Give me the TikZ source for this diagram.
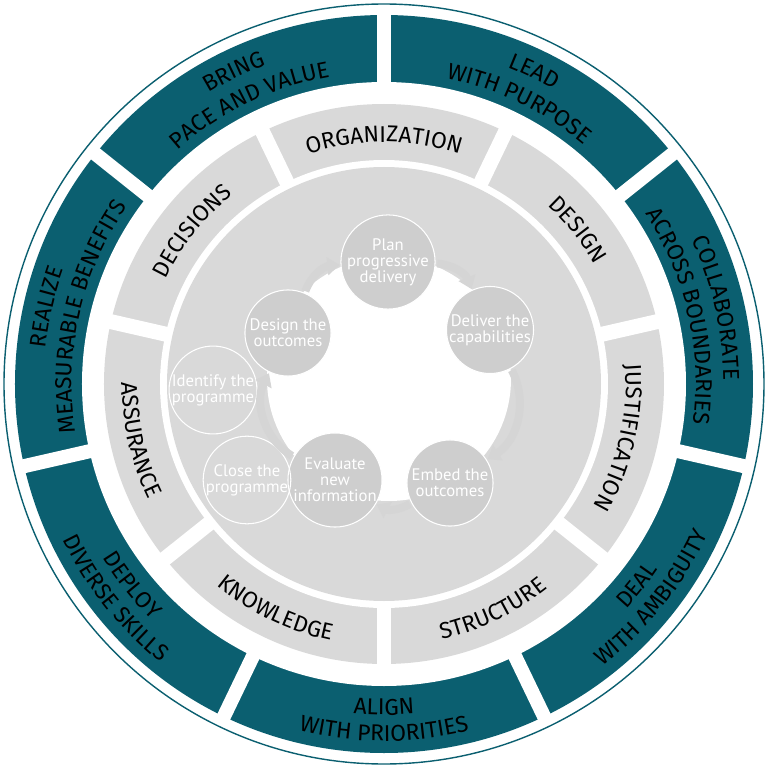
\documentclass[tikz,border=0pt]{standalone}
\usepackage{fontspec}
\setmainfont{Fira Sans}
\newfontfamily\cyclefont{PT Sans}
\usetikzlibrary{decorations.text,arrows.meta}

\definecolor{petrol}{HTML}{0B5F70}
\definecolor{ringgray}{HTML}{D9D9D9}
\definecolor{stepgray}{HTML}{CECECE}
\definecolor{ringtext}{HTML}{F3F3F3}

\tikzset{
  stage/.style={circle, fill=stepgray, draw=white, line width=0.6pt,
    minimum size=49pt, inner sep=0pt, align=center, text=white,
    font=\cyclefont\fontsize{9.5}{9}\selectfont},
  phase/.style={stage, fill=none},
  flow/.style={draw=stepgray!85!white, line width=4.5pt,
    -{Triangle[length=7pt,width=10pt]}, shorten <=1pt, shorten >=0.5pt},
  cut/.style={draw=white, line width=8pt},
}

\begin{document}
\begin{tikzpicture}[x=0.02cm, y=0.02cm]
\useasboundingbox (-384,-384) rectangle (384,384);

% outer ring
\draw[petrol, line width=0.8pt] (0,0) circle (380);
\fill[petrol] (0,0) circle (369);
\fill[white] (0,0) circle (302);
\foreach \a in {90,38.57,-12.86,-64.29,-115.71,-167.14,141.43}
  \draw[cut] (\a:290) -- (\a:375);

% middle ring
\fill[ringgray] (0,0) circle (280);
\fill[white] (0,0) circle (224);
\foreach \a in {64.29,12.86,-38.57,-90,-141.43,167.14,115.71}
  \draw[cut, line width=8.5pt] (\a:220) -- (\a:285);

% inner disk
\fill[ringgray] (0,0) circle (217);
\fill[white] (5,5) circle (122);

% outer ring texts
\begin{scope}[white]
\fontsize{13}{13}\selectfont
\foreach \a/\one/\two in {64.29/LEAD/WITH PURPOSE, 12.86/COLLABORATE/ACROSS BOUNDARIES,
    167.14/REALIZE/MEASURABLE BENEFITS, 115.71/BRING/PACE AND VALUE}{
  \path[decorate, decoration={text along path, text align=center, text/.expanded=\one}]
    (\a+25:340) arc[start angle=\a+25, end angle=\a-25, radius=340];
  \path[decorate, decoration={text along path, text align=center, text/.expanded=\two}]
    (\a+25:312) arc[start angle=\a+25, end angle=\a-25, radius=312];
}
\foreach \a/\one/\two in {-38.57/DEAL/WITH AMBIGUITY, -90/ALIGN/WITH PRIORITIES,
    -141.43/DEPLOY/DIVERSE SKILLS}{
  \path[decorate, decoration={text along path, text align=center, text/.expanded=\one}]
    (\a-25:331) arc[start angle=\a-25, end angle=\a+25, radius=331];
  \path[decorate, decoration={text along path, text align=center, text/.expanded=\two}]
    (\a-25:357) arc[start angle=\a-25, end angle=\a+25, radius=357];
}
\end{scope}

% middle ring texts
\begin{scope}[ringtext]
\fontsize{13}{13}\selectfont
\foreach \a/\word in {141.43/DECISIONS, 90/ORGANIZATION, 38.57/DESIGN, -12.86/JUSTIFICATION}
  \path[decorate, decoration={text along path, text align=center, text/.expanded=\word}]
    (\a+25:242) arc[start angle=\a+25, end angle=\a-25, radius=242];
\foreach \a/\word in {-64.29/STRUCTURE, -115.71/KNOWLEDGE, 192.86/ASSURANCE}
  \path[decorate, decoration={text along path, text align=center, text/.expanded=\word}]
    (\a-25:262) arc[start angle=\a-25, end angle=\a+25, radius=262];
\end{scope}

% lifecycle
\node[stage] (plan) at (4,122) {Plan\\progressive\\delivery};
\node[stage] (deliver) at (106,54) {Deliver the\\capabilities};
\node[stage] (embed) at (66,-99) {Embed the\\outcomes};
\node[stage] (evaluate) at (-49,-96) {Evaluate\\new\\information};
\node[stage] (design) at (-96,51) {Design the\\outcomes};
\node[phase] (identify) at (-171,-6) {Identify the\\programme};
\node[phase] (close) at (-137,-96) {Close the\\programme};

\draw[flow] (plan) to[bend left=32] (deliver);
\draw[flow] (deliver) to[bend left=43] (embed);
\draw[flow] (embed) to[bend left=29] (evaluate);
\draw[flow] (evaluate) to[bend left=43] (design);
\draw[flow] (design) to[bend left=32] (plan);
\end{tikzpicture}
\end{document}
